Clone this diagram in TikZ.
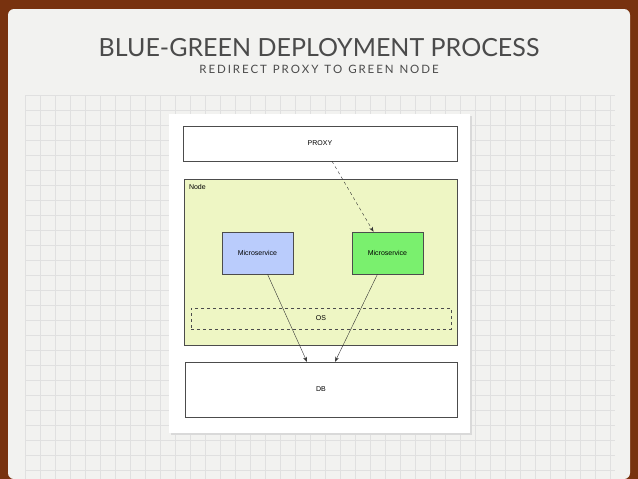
\documentclass[tikz,border=0pt]{standalone}
\usepackage{fontspec}
\setmainfont{Lato}
\setsansfont{Liberation Sans}
\usetikzlibrary{positioning, arrows.meta}
\definecolor{woodbrown}{RGB}{120, 50, 15}
\definecolor{paper}{RGB}{242, 242, 240}
\definecolor{gridgray}{RGB}{224, 224, 224}
\definecolor{titlegray}{RGB}{75, 75, 75}
\definecolor{nodegreen}{RGB}{238, 246, 196}
\definecolor{msblue}{RGB}{186, 204, 252}
\definecolor{msgreen}{RGB}{122, 240, 110}

\begin{document}
\begin{tikzpicture}[
    x=1pt, y=-1pt,
    % --- stili ---
    box/.style={draw=black!70, fill=white, inner sep=0, font=\fontsize{7}{9}\selectfont\sffamily},
    service/.style={box, minimum width=71pt, minimum height=42pt},
    link/.style={-{Stealth[length=5pt]}, black!80}
]
\useasboundingbox (0,0) rectangle (638,479);

% 1. Cornice e foglio
\fill[woodbrown] (0,0) rectangle (638,479);
\fill[paper, rounded corners=6pt] (8,9) rectangle (630,479);
\foreach \gx in {25,40,...,615} \draw[gridgray] (\gx,95) -- (\gx,479);
\foreach \gy in {95,110,...,479} \draw[gridgray] (25,\gy) -- (615,\gy);

% 2. Titoli
\node (title) [text=titlegray, font=\fontsize{25}{28}\selectfont] at (319,48) {BLUE-GREEN DEPLOYMENT PROCESS};
\node (subtitle) [text=titlegray, font=\fontsize{11.5}{13}\selectfont, below=1pt of title] {R\,E\,D\,I\,R\,E\,C\,T\ \ P\,R\,O\,X\,Y\ \ T\,O\ \ G\,R\,E\,E\,N\ \ N\,O\,D\,E};

% 3. Pannello bianco
\fill[black!15] (171,116) rectangle (472,435);
\fill[white] (169,114) rectangle (470,433);

% 4. Blocchi
\node (proxy) [box, minimum width=274pt, minimum height=35pt] at (320,143.5) {PROXY};
\node (host) [box, fill=nodegreen, minimum width=273pt, minimum height=166pt] at (320.5,262) {};
\node (hostlabel) [font=\fontsize{7}{9}\selectfont\sffamily, anchor=north west, inner sep=5pt] at (host.north west) {Node};
\node (os) [draw=black!70, dashed, inner sep=0, minimum width=260pt, minimum height=21pt, font=\fontsize{7}{9}\selectfont\sffamily] at (321,318.5) {OS};
\node (blue) [service, fill=msblue] at (257.5,253) {Microservice};
\node (green) [service, fill=msgreen] at (387.5,253) {Microservice};
\node (db) [box, minimum width=272pt, minimum height=55pt] at (321,389.5) {DB};

% 5. Frecce
\coordinate (pin) at ([xshift=12pt]proxy.south);
\coordinate (bin) at ([xshift=-14pt]db.north);
\coordinate (gin) at ([xshift=14pt]db.north);
\draw[link, dashed] (pin) -- ([xshift=-14pt]green.north);
\draw[link] ([xshift=10pt]blue.south) -- (bin);
\draw[link] ([xshift=-10pt]green.south) -- (gin);
\end{tikzpicture}
\end{document}
